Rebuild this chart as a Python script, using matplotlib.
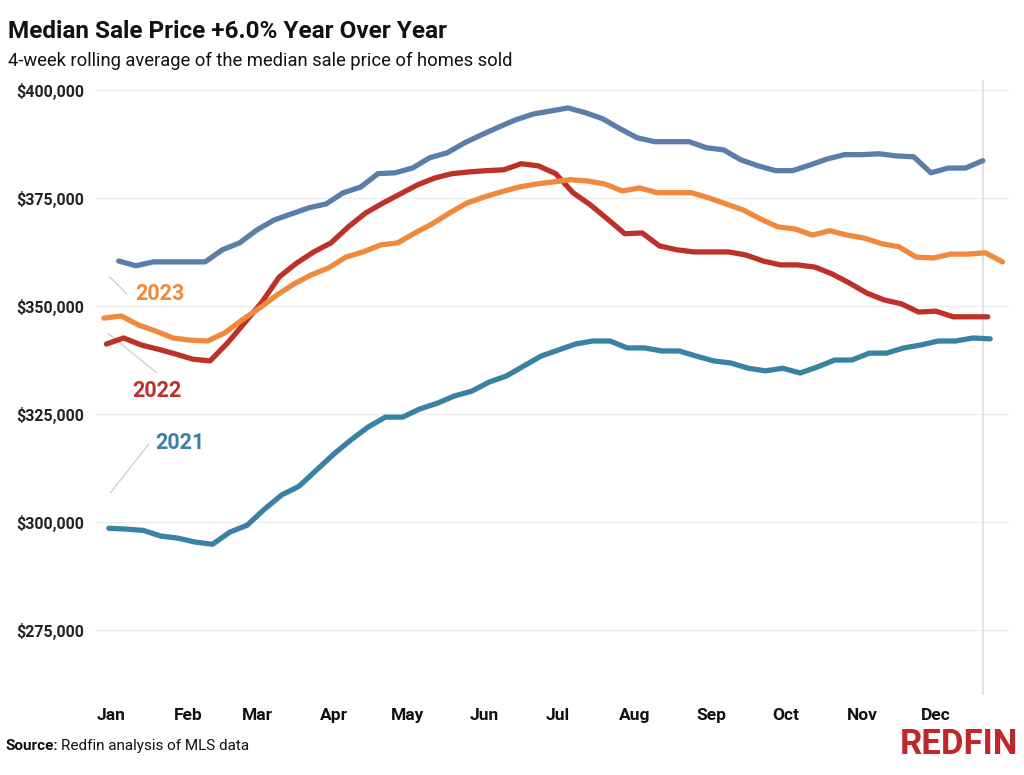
import numpy as np
import matplotlib
matplotlib.use('Agg')
import matplotlib.pyplot as plt

plt.rcParams['font.family'] = ['Roboto', 'DejaVu Sans']

# weekly 4-week rolling median sale price, in $ thousands
# first point day-of-year for each year, then one value per week
start_2021 = 3
price_2021 = [298.6, 298.4, 298.1, 296.8, 296.3, 295.4, 294.9, 297.7, 299.3, 303.0,
              306.3, 308.3, 312.0, 315.7, 319.0, 322.0, 324.3, 324.3, 326.2, 327.5,
              329.2, 330.3, 332.4, 333.8, 336.1, 338.4, 339.8, 341.2, 341.9, 341.9,
              340.3, 340.3, 339.6, 339.6, 338.4, 337.3, 336.8, 335.6, 335.0, 335.6,
              334.5, 335.9, 337.5, 337.5, 339.1, 339.1, 340.3, 341.0, 341.9, 341.9,
              342.6, 342.4]

start_2022 = 2
price_2022 = [341.2, 342.6, 341.0, 340.0, 338.9, 337.7, 337.3, 341.4, 346.1, 350.9,
              356.7, 359.9, 362.5, 364.6, 368.3, 371.5, 373.8, 375.9, 378.0, 379.6,
              380.6, 381.0, 381.3, 381.5, 382.9, 382.4, 380.6, 376.2, 373.4, 370.1,
              366.7, 366.9, 363.9, 363.0, 362.5, 362.5, 362.5, 361.8, 360.4, 359.5,
              359.5, 359.0, 357.4, 355.3, 353.0, 351.4, 350.5, 348.6, 348.8, 347.5,
              347.5, 347.5]

start_2023 = 1
price_2023 = [347.2, 347.7, 345.6, 344.2, 342.6, 342.1, 341.9, 343.8, 346.8, 349.5,
              352.5, 355.1, 357.2, 358.8, 361.3, 362.5, 364.1, 364.6, 366.9, 369.0,
              371.5, 373.8, 375.2, 376.4, 377.5, 378.2, 378.7, 379.2, 378.9, 378.2,
              376.6, 377.3, 376.2, 376.2, 376.2, 375.0, 373.6, 372.2, 370.1, 368.3,
              367.8, 366.4, 367.4, 366.4, 365.7, 364.4, 363.7, 361.3, 361.1, 362.0,
              362.0, 362.3, 360.2]

start_2024 = 7
price_2024 = [360.4, 359.3, 360.2, 360.2, 360.2, 360.2, 363.0, 364.6, 367.6, 369.9,
              371.3, 372.7, 373.6, 376.2, 377.5, 380.6, 380.8, 381.9, 384.3, 385.4,
              387.7, 389.6, 391.4, 393.1, 394.4, 395.1, 395.8, 394.7, 393.3, 391.0,
              388.9, 388.0, 388.0, 388.0, 386.6, 386.1, 383.8, 382.4, 381.3, 381.3,
              382.6, 384.0, 385.0, 385.0, 385.2, 384.7, 384.5, 380.8, 381.9, 381.9,
              383.6]

months = ['Jan', 'Feb', 'Mar', 'Apr', 'May', 'Jun', 'Jul', 'Aug', 'Sep', 'Oct', 'Nov', 'Dec']
month_start = [1, 32, 60, 91, 121, 152, 182, 213, 244, 274, 305, 335]
yticks = [275, 300, 325, 350, 375, 400]

c2021 = '#3a82a4'
c2022 = '#bd3129'
c2023 = '#f0893b'
c2024 = '#5a7daa'


def days(start, vals):
    return start + 7 * np.arange(len(vals))


fig = plt.figure(figsize=(10.24, 7.75), dpi=100)
ax = fig.add_axes([0.0928, 0.103, 0.893, 0.794])

for y in yticks:
    ax.axhline(y, color='#ececec', lw=0.8, zorder=0)

last_day = days(start_2024, price_2024)[-1]
ax.axvline(last_day, color='#dddddd', lw=1.2, zorder=0)

for start, vals, col in [(start_2021, price_2021, c2021), (start_2022, price_2022, c2022),
                         (start_2023, price_2023, c2023), (start_2024, price_2024, c2024)]:
    ax.plot(days(start, vals), vals, color=col, lw=3.8, solid_capstyle='round',
            solid_joinstyle='round', zorder=3)

# year labels with leader lines
ax.plot([3.4, 10.3], [356.7, 352.8], color='#cccccc', lw=0.9, zorder=1)
ax.text(13.6, 352.8, '2023', color=c2023, fontsize=15.5, fontweight='bold', va='center')
ax.plot([2.6, 22.5], [343.7, 334.5], color='#cccccc', lw=0.9, zorder=1)
ax.text(12.3, 330.3, '2022', color=c2022, fontsize=15.5, fontweight='bold', va='center')
ax.plot([3.8, 19.2], [306.9, 318.1], color='#cccccc', lw=0.9, zorder=1)
ax.text(21.7, 318.3, '2021', color=c2021, fontsize=15.5, fontweight='bold', va='center')

ax.set_xlim(-2.6, 367.8)
ax.set_ylim(260, 402.3)
ax.set_xticks([d + 3 for d in month_start])
ax.set_xticklabels(months, fontsize=12.5, fontweight='bold', color='#111111')
ax.set_yticks(yticks)
ax.set_yticklabels(['${:,.0f}'.format(v * 1000) for v in yticks], fontsize=11.5,
                   fontweight='bold', color='#222222')
ax.tick_params(length=0)
ax.tick_params(axis='x', pad=9)
ax.tick_params(axis='y', pad=8)
for s in ax.spines.values():
    s.set_visible(False)

fig.text(0.008, 0.960, 'Median Sale Price +6.0% Year Over Year', fontsize=17.5,
         fontweight='bold', va='center', color='#111111')
fig.text(0.008, 0.921, '4-week rolling average of the median sale price of homes sold',
         fontsize=13.2, va='center', color='#111111')

renderer = fig.canvas.get_renderer()
t = fig.text(0.005, 0.038, 'Source:', fontsize=11, fontweight='bold', va='center',
             color='#111111')
bb = t.get_window_extent(renderer)
fig.text((bb.x1 + 3) / fig.bbox.width, 0.038, 'Redfin analysis of MLS data', fontsize=11,
         va='center', color='#111111')

fig.text(0.994, 0.040, 'REDFIN', fontsize=25, fontweight='bold', color='#c0272d',
         ha='right', va='center')

fig.savefig('out.png', dpi=100)
